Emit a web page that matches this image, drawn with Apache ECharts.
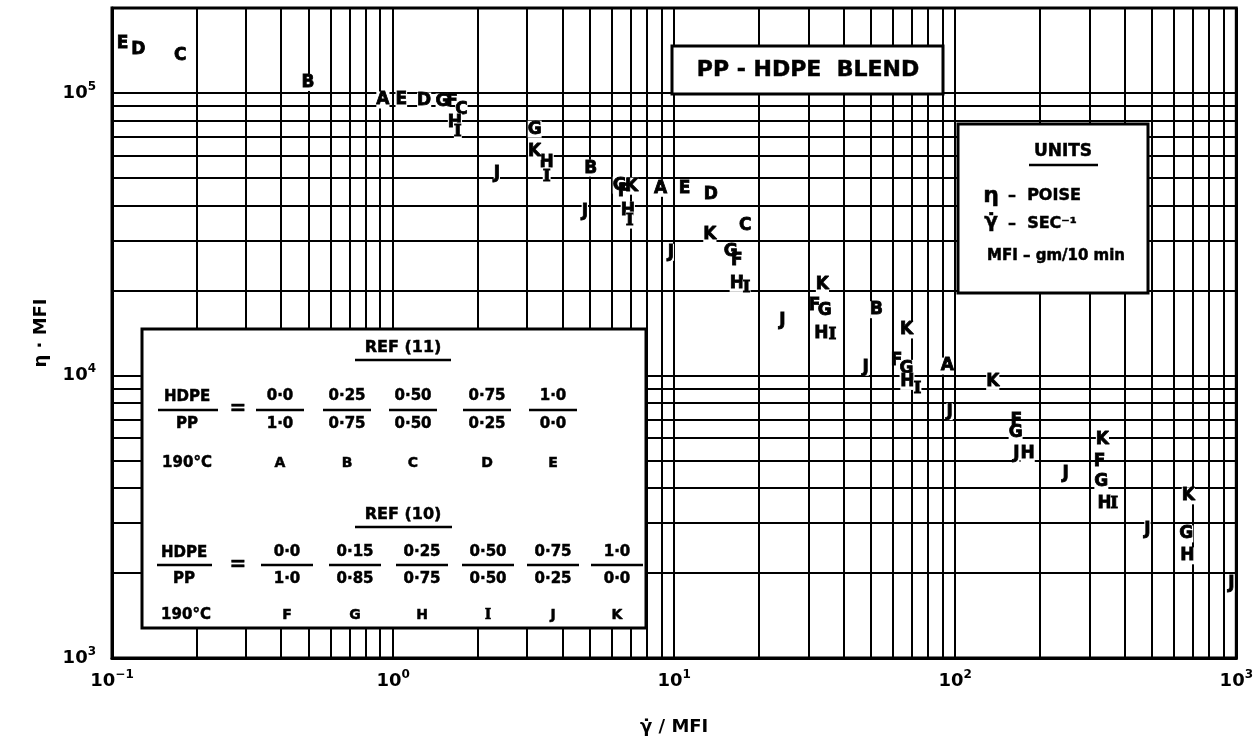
<!DOCTYPE html>
<html>
<head>
<meta charset="utf-8">
<script src="https://cdn.jsdelivr.net/npm/echarts@6/dist/echarts.min.js"></script>
<style>
html,body{margin:0;padding:0;background:#fff;}
#chart{width:1256px;height:741px;}
</style>
</head>
<body>
<div id="chart"></div>
<script>
// ---- data: [shear rate / MFI, eta * MFI] ----
const serA = [[0.92, 94500], [8.95, 46000], [93.8, 10800]];
const serB = [[0.498, 109000], [5.05, 54200], [52.5, 17100]];
const serC = [[0.175, 136000], [1.75, 87100], [17.9, 34000]];
const serD = [[0.124, 142000], [1.29, 93700], [13.5, 43800]];
const serE = [[0.109, 150000], [1.07, 94500], [10.9, 46000]];
const serF = [[1.62, 92900], [6.61, 44900], [16.7, 25600], [31.6, 17700], [61.8, 11300], [165, 6920], [326, 4950]];
const serG = [[1.50, 92900], [3.19, 74500], [6.40, 47200], [15.9, 27500], [34.3, 17000], [67.1, 10600], [164, 6280], [331, 4210], [664, 2750]];
const serH = [[1.66, 78900], [3.52, 56500], [6.84, 38500], [16.7, 21200], [33.4, 14100], [67.6, 9530], [181, 5290], [340, 3520], [670, 2300]];
const serI = [[1.70, 73300], [3.52, 50800], [6.95, 35500], [18.1, 20400], [36.6, 14000], [73.4, 9000], [368, 3520]];
const serJ = [[2.34, 52000], [4.81, 37900], [9.73, 27300], [24.3, 15700], [48.0, 10700], [95.5, 7450], [165, 5290], [247, 4490], [483, 2860], [960, 1830]];
const serK = [[3.19, 62200], [7.06, 46800], [13.4, 31600], [33.7, 21000], [67.1, 14500], [136, 9530], [334, 5930], [675, 3750]];

const seriesNames = ['A','B','C','D','E','F','G','H','I','J','K'];
const seriesData = [serA, serB, serC, serD, serE, serF, serG, serH, serI, serJ, serK];

// axis ranges
const xMin = 0.1, xMax = 1000;
const yMin = 1000, yMax = 200000;
const gridMultipliers = [2, 3, 4, 5, 6, 7, 8, 9];

// legend texts
const titleText = 'PP - HDPE  BLEND';
const ref11Title = 'REF (11)';
const ref10Title = 'REF (10)';
const ref11Num = ['0·0', '0·25', '0·50', '0·75', '1·0'];
const ref11Den = ['1·0', '0·75', '0·50', '0·25', '0·0'];
const ref11Codes = ['A', 'B', 'C', 'D', 'E'];
const ref10Num = ['0·0', '0·15', '0·25', '0·50', '0·75', '1·0'];
const ref10Den = ['1·0', '0·85', '0·75', '0·50', '0·25', '0·0'];
const ref10Codes = ['F', 'G', 'H', 'I', 'J', 'K'];
const tempLabel = '190°C';
const unitsTitle = 'UNITS';
const unitsLines = [['η', '–  POISE'], ['γ̇', '–  SEC⁻¹']];
const mfiLine = 'MFI – gm/10 min';
const xName = 'γ̇ / MFI';
const yName = 'η · MFI';

// ---- build ----
const FONT = '"DejaVu Sans", "Liberation Sans", sans-serif';
const SERIF = '"DejaVu Serif", serif';
const minorX = [], minorY = [];
for (let d = 0.1; d < xMax; d *= 10) gridMultipliers.forEach(m => minorX.push({ xAxis: +(d * m).toPrecision(3) }));
for (let d = 1000; d < yMax; d *= 10) gridMultipliers.forEach(m => { const v = d * m; if (v < yMax) minorY.push({ yAxis: v }); });

function expLabel(v) {
  const e = Math.log10(v);
  if (Math.abs(e - Math.round(e)) > 1e-6) return '';
  const r = Math.round(e);
  return '{b|10}{s|' + (r < 0 ? '−' + (-r) : r) + '}';
}
const richTicks = {
  b: { fontSize: 18, fontWeight: 'bold', fontFamily: FONT, color: '#000', lineHeight: 22 },
  s: { fontSize: 12, fontWeight: 'bold', fontFamily: FONT, color: '#000', lineHeight: 22, padding: [0, 0, 13, 0] }
};

const series = [{
  type: 'line', data: [], silent: true, z: 1,
  markLine: {
    silent: true, symbol: ['none', 'none'], label: { show: false }, animation: false,
    lineStyle: { color: '#000', width: 2, type: 'solid' },
    data: minorX.concat(minorY)
  }
}];
seriesNames.forEach((n, i) => {
  series.push({
    name: n, type: 'scatter', data: seriesData[i], symbolSize: 1, z: n === 'F' ? 7 : 5, silent: true,
    itemStyle: { color: 'rgba(0,0,0,0)' },
    label: {
      show: true, position: 'inside', formatter: n, color: '#000', opacity: 1,
      fontWeight: 'bold', fontSize: 17,
      fontFamily: n === 'I' ? SERIF : FONT,
      textBorderColor: '#000', textBorderWidth: 0.8,
      backgroundColor: n === 'F' ? 'transparent' : '#fff', padding: [0, 0]
    }
  });
});

// graphic elements
const G = [];
function rect(x, y, w, h) { G.push({ type: 'rect', z: 100, shape: { x, y, width: w, height: h }, style: { fill: '#fff', stroke: '#000', lineWidth: 3 } }); }
function txt(x, y, t, size, align, fam) {
  G.push({ type: 'text', z: 101, x, y, style: { text: t, fontSize: size, fontWeight: 'bold', fontFamily: fam || FONT, fill: '#000', stroke: '#000', lineWidth: 0.5, align: align || 'center', verticalAlign: 'middle' } });
}
function hline(x1, x2, y, w) { G.push({ type: 'line', z: 101, shape: { x1, y1: y, x2, y2: y }, style: { stroke: '#000', lineWidth: w || 2 } }); }

// title box
rect(672, 46, 271, 48);
txt(808, 70, titleText, 22);

// units box
rect(958, 124, 190, 169);
txt(1063, 152, unitsTitle, 17);
hline(1029, 1098, 165, 2.5);
txt(991, 196, unitsLines[0][0], 22);
txt(1008, 196, unitsLines[0][1], 16, 'left');
txt(991, 222, unitsLines[1][0], 20);
txt(1008, 224, unitsLines[1][1], 16, 'left');
txt(1056, 256, mfiLine, 15);

// ref legend box
rect(142, 329, 504, 299);
txt(403, 348, ref11Title, 16);
hline(355, 451, 360, 2.5);
const x11 = [280, 347, 413, 487, 553];
txt(187, 397, 'HDPE', 15); hline(158, 218, 410, 2.5); txt(187, 424, 'PP', 15);
txt(238, 409, '=', 20);
ref11Num.forEach((t, i) => { txt(x11[i], 396, t, 15); hline(x11[i] - 24, x11[i] + 24, 410, 2.5); txt(x11[i], 424, ref11Den[i], 15); txt(x11[i], 463, ref11Codes[i], 14); });
txt(187, 463, tempLabel, 15);

txt(403, 515, ref10Title, 16);
hline(355, 452, 527, 2.5);
const x10 = [287, 355, 422, 488, 553, 617];
txt(184, 553, 'HDPE', 15); hline(157, 212, 565, 2.5); txt(184, 579, 'PP', 15);
txt(238, 565, '=', 20);
ref10Num.forEach((t, i) => { txt(x10[i], 552, t, 15); hline(x10[i] - 26, x10[i] + 26, 565, 2.5); txt(x10[i], 579, ref10Den[i], 15);
  txt(x10[i], 615, ref10Codes[i], 14, 'center', ref10Codes[i] === 'I' ? SERIF : FONT); });
txt(186, 615, tempLabel, 15);

const chart = echarts.init(document.getElementById('chart'), null, { renderer: 'canvas' });
chart.setOption({
  animation: false,
  backgroundColor: '#fff',
  grid: { left: 112, right: 19, top: 8, bottom: 82, show: true, borderColor: '#000', borderWidth: 3, backgroundColor: 'transparent' },
  xAxis: {
    type: 'log', logBase: 10, min: xMin, max: xMax,
    name: xName, nameLocation: 'middle', nameGap: 60,
    nameTextStyle: { fontSize: 18, fontWeight: 'bold', fontFamily: FONT, color: '#000' },
    axisLine: { show: true, lineStyle: { color: '#000', width: 3 } },
    axisTick: { show: false },
    axisLabel: { formatter: expLabel, rich: richTicks, margin: 12, showMaxLabel: true },
    splitLine: { show: true, lineStyle: { color: '#000', width: 2 } },
    minorTick: { show: false }, minorSplitLine: { show: false }
  },
  yAxis: {
    type: 'log', logBase: 10, min: yMin, max: yMax,
    name: yName, nameLocation: 'middle', nameGap: 62, nameRotate: 90,
    nameTextStyle: { fontSize: 18, fontWeight: 'bold', fontFamily: FONT, color: '#000' },
    axisLine: { show: true, lineStyle: { color: '#000', width: 3 } },
    axisTick: { show: false },
    axisLabel: { formatter: expLabel, rich: richTicks, margin: 16 },
    splitLine: { show: true, lineStyle: { color: '#000', width: 2 } }
  },
  graphic: G,
  series: series
});
</script>
</body>
</html>
